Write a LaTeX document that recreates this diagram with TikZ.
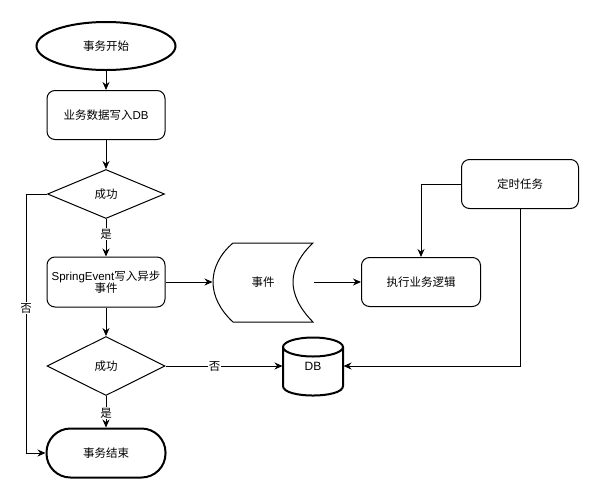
\documentclass[tikz,border=0pt]{standalone}
\usepackage{fontspec}
\setmainfont{Noto Sans CJK SC}
\newfontfamily\latinfont{Liberation Sans}
\usetikzlibrary{positioning,shapes.geometric,arrows.meta}

\begin{document}
\begin{tikzpicture}[x=1pt,y=-1pt,line width=1pt,
  font=\fontsize{11.5}{14}\selectfont,
  arr/.style={-{Stealth[length=8pt,width=7pt]}},
  term/.style={draw,ellipse,line width=2pt,minimum width=139pt,minimum height=48pt},
  stadium/.style={draw,rectangle,rounded corners=24pt,line width=2pt,minimum width=119pt,minimum height=49pt},
  proc/.style={draw,rectangle,rounded corners=8pt,minimum width=118pt,minimum height=49pt,align=center},
  cond/.style={draw,diamond,inner sep=0pt,minimum width=117pt,minimum height=49pt},
  lbl/.style={fill=white,inner sep=1pt}]
		\useasboundingbox (0,0) rectangle (600,499);
		% left column
		\node[term] (start) at (106,46) {事务开始};
		\node[proc] (write) at (106,115) {业务数据写入{\latinfont DB}};
		\node[cond] (ok1) at (106,194) {成功};
		\node[proc,minimum height=50pt] (spring) at (106,282) {{\latinfont SpringEvent}写入异步\\[-2pt]事件};
		\node[cond,minimum width=118pt,minimum height=59pt] (ok2) at (106,366) {成功};
		\node[stadium] (stop) at (106,453) {事务结束};
		% event (stored data shape)
		\node[minimum width=100pt,minimum height=79pt,inner sep=0pt] (evt) at (263,282) {事件};
		\draw (233,243) -- (313,243)
		      .. controls (299,256) and (293,270) .. (293,282)
		      .. controls (293,294) and (299,308) .. (313,322) -- (233,322)
		      .. controls (220,310) and (213,296) .. (213,282)
		      .. controls (213,268) and (220,254) .. (233,243);
		% right side
		\node[proc,minimum width=119pt] (exec) at (421,282) {执行业务逻辑};
		\node[proc,minimum width=117pt] (timer) at (520,184) {定时任务};
		% database
		\node[minimum width=60pt,minimum height=58pt,inner sep=0pt,font=\latinfont\fontsize{12}{14}\selectfont] (db) at (313,366) {DB};
		\draw[line width=2pt] (313,347) ellipse [x radius=30, y radius=9.5];
		\draw[line width=2pt] (283,347) -- (283,386)
		      .. controls (283,398.7) and (343,398.7) .. (343,386) -- (343,347);
		% connectors
		\draw[arr] (start) -- (write);
		\draw[arr] (write) -- (ok1);
		\draw[arr] (ok1) -- node[lbl,pos=0.4] {是} (spring);
		\draw[arr] (spring) -- (ok2);
		\draw[arr] (ok2) -- node[lbl,pos=0.55] {是} (stop);
		\draw[arr] (ok1.west) -- ++(-21,0) |- node[lbl,pos=0.22] {否} (stop.west);
		\draw[arr] (spring.east) -- (evt.west);
		\draw[arr] (evt.east) -- (exec.west);
		\draw[arr] (timer.west) -| (exec.north);
		\draw[arr] (timer.south) |- (db.east);
		\draw[arr] (ok2.east) -- node[lbl,pos=0.42] {否} (db.west);
	\end{tikzpicture}
\end{document}
